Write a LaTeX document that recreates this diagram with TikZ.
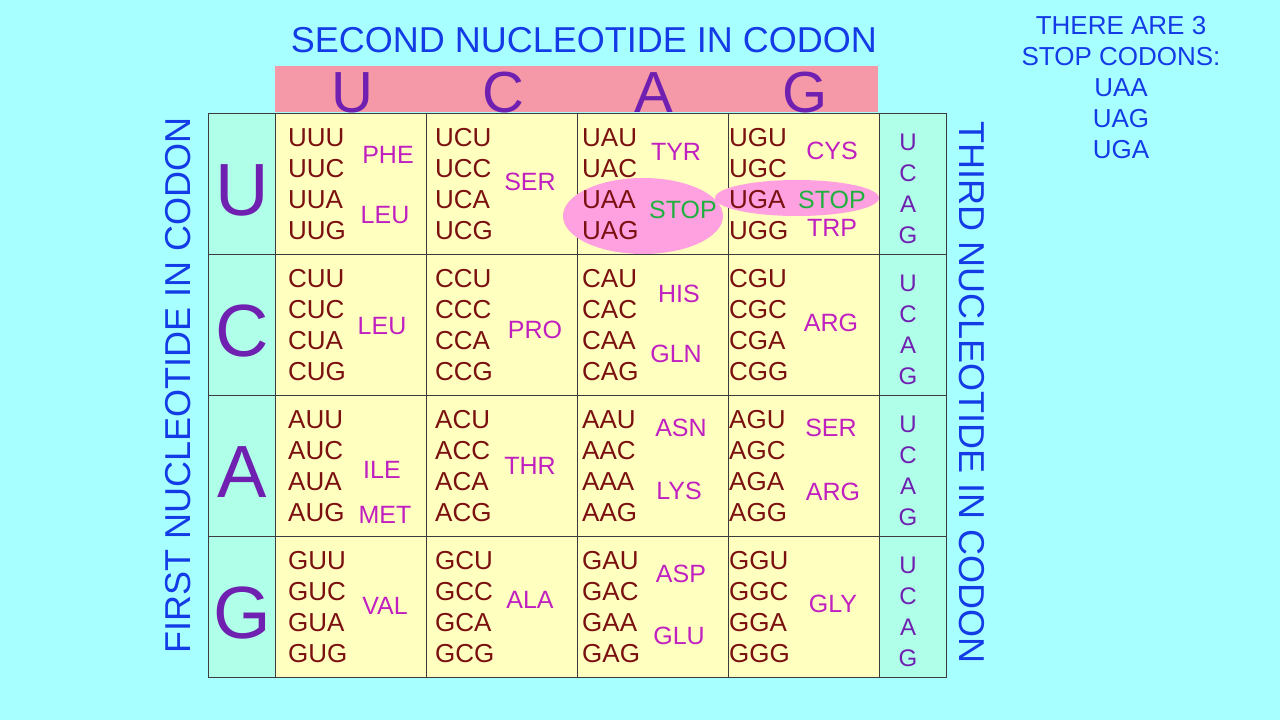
\documentclass[tikz,border=0pt]{standalone}
\usepackage{fontspec}
\setmainfont{Liberation Sans}
\definecolor{bgcyan}{RGB}{168,255,255}
\definecolor{headpink}{RGB}{245,152,168}
\definecolor{cellyellow}{RGB}{255,255,192}
\definecolor{sidegreen}{RGB}{176,255,232}
\definecolor{codonred}{RGB}{122,16,16}
\definecolor{aamagenta}{RGB}{192,32,192}
\definecolor{bigpurple}{RGB}{112,32,176}
\definecolor{titleblue}{RGB}{20,60,230}
\definecolor{stopgreen}{RGB}{32,176,64}
\definecolor{ovalpink}{RGB}{255,160,224}
\tikzset{
  cellbox/.style={draw={rgb,255:red,60;green,60;blue,60}, line width=0.8pt},
  codon/.style={anchor=west, inner sep=0pt, text=codonred, font=\fontsize{26}{26}\selectfont},
  amino/.style={inner sep=0pt, text=aamagenta, font=\fontsize{25}{25}\selectfont},
  stoptxt/.style={inner sep=0pt, text=stopgreen, font=\fontsize{25}{25}\selectfont},
  bigbase/.style={inner sep=0pt, text=bigpurple, font=\fontsize{74}{74}\selectfont},
  thirdbase/.style={inner sep=0pt, text=bigpurple, font=\fontsize{24}{24}\selectfont},
  titletxt/.style={inner sep=0pt, text=titleblue, font=\fontsize{36}{36}\selectfont},
  notetxt/.style={inner sep=0pt, text=titleblue, font=\fontsize{26}{31}\selectfont, align=center}
}
\begin{document}
\begin{tikzpicture}[x=1pt,y=1pt,yscale=-1]
\fill[bgcyan] (0,0) rectangle (1280,720);
\useasboundingbox (0,0) rectangle (1280,720);

% header row and side columns
\fill[headpink] (275,66) rectangle (878,112);
\foreach \b [count=\i from 0] in {U,C,A,G} {
  \node[bigbase, font=\fontsize{58}{58}\selectfont] (head\b) at (352+151*\i,93) {\b};
  \fill[sidegreen, cellbox] (208,113+141*\i) rectangle (275,254+141*\i);
  \fill[sidegreen, cellbox] (878,113+141*\i) rectangle (946,254+141*\i);
  \node[bigbase] (first\b) at (242,190+141*\i) {\b};
  \foreach \t [count=\k from 0] in {U,C,A,G}
    \node[thirdbase] (third\b\t) at (908,142+141*\i+31*\k) {\t};
}

% codon cells
\foreach \f [count=\r from 0] in {U,C,A,G} {
  \foreach \s [count=\c from 0] in {U,C,A,G} {
    \fill[cellyellow, cellbox] (275+151*\c,113+141*\r) rectangle (426+151*\c,254+141*\r);
  }
}

% stop ovals
\fill[ovalpink] (643,216) ellipse [x radius=80, y radius=38];
\fill[ovalpink] (797,198) ellipse [x radius=82, y radius=18];

\foreach \f [count=\r from 0] in {U,C,A,G} {
  \foreach \s [count=\c from 0] in {U,C,A,G} {
    \foreach \t [count=\k from 0] in {U,C,A,G}
      \node[codon] (c\f\s\t) at (288+151*\c-4*\c,138+141*\r+31*\k) {\f\s\t};
  }
}

% amino acids
\node[amino] (phe) at (388,155) {PHE};
\node[amino] (leuA) at (385,215) {LEU};
\node[amino] (serA) at (530,182) {SER};
\node[amino] (tyr) at (676,152) {TYR};
\node[stoptxt] (stopA) at (683,210) {STOP};
\node[amino] (cys) at (832,151) {CYS};
\node[stoptxt] (stopB) at (832,200) {STOP};
\node[amino] (trp) at (832,228) {TRP};
\node[amino] (leuB) at (382,326) {LEU};
\node[amino] (pro) at (535,330) {PRO};
\node[amino] (his) at (679,294) {HIS};
\node[amino] (gln) at (676,354) {GLN};
\node[amino] (argA) at (831,323) {ARG};
\node[amino] (ile) at (382,470) {ILE};
\node[amino] (met) at (385,515) {MET};
\node[amino] (thr) at (530,466) {THR};
\node[amino] (asn) at (681,428) {ASN};
\node[amino] (lys) at (679,491) {LYS};
\node[amino] (serB) at (831,428) {SER};
\node[amino] (argB) at (833,492) {ARG};
\node[amino] (val) at (385,606) {VAL};
\node[amino] (ala) at (530,600) {ALA};
\node[amino] (asp) at (681,574) {ASP};
\node[amino] (glu) at (679,636) {GLU};
\node[amino] (gly) at (833,604) {GLY};

% titles
\node[titletxt] (second) at (584,40) {SECOND NUCLEOTIDE IN CODON};
\node[titletxt, rotate=90] (firstt) at (178,385) {FIRST NUCLEOTIDE IN CODON};
\node[titletxt, rotate=-90] (thirdt) at (972,393) {THIRD NUCLEOTIDE IN CODON};
\node[notetxt] (note) at (1121,88) {THERE ARE 3\\STOP CODONS:\\UAA\\UAG\\UGA};
\end{tikzpicture}
\end{document}
